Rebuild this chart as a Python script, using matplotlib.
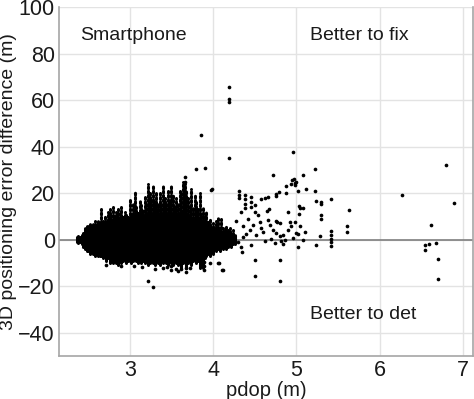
import matplotlib
matplotlib.use('Agg')
import matplotlib.pyplot as plt

plt.rcParams['font.family'] = ['Liberation Sans', 'DejaVu Sans']

# Dense core of the cloud: one column of points per pdop value
# (x, lowest y, top of the solid part, highest y)
col_x = [2.36, 2.38, 2.40, 2.42, 2.44, 2.46, 2.48, 2.50, 2.52, 2.54,
         2.56, 2.58, 2.60, 2.62, 2.64, 2.66, 2.68, 2.70, 2.72, 2.74,
         2.76, 2.78, 2.80, 2.82, 2.84, 2.86, 2.88, 2.90, 2.92, 2.94,
         2.96, 2.98, 3.00, 3.02, 3.04, 3.06, 3.08, 3.10, 3.12, 3.14,
         3.16, 3.18, 3.20, 3.22, 3.24, 3.26, 3.28, 3.30, 3.32, 3.34,
         3.36, 3.38, 3.40, 3.42, 3.44, 3.46, 3.48, 3.50, 3.52, 3.54,
         3.56, 3.58, 3.60, 3.62, 3.64, 3.66, 3.68, 3.70, 3.72, 3.74,
         3.76, 3.78, 3.80, 3.82, 3.84, 3.86, 3.88, 3.90, 3.92, 3.94,
         3.96, 3.98, 4.00, 4.02, 4.04, 4.06, 4.08, 4.10, 4.12, 4.14,
         4.16, 4.18, 4.20, 4.22, 4.24, 4.26]
col_lo = [-1, -1.5, -1, -2, -3, -4, -5, -5, -6, -5,
          -6, -7, -6, -7, -7, -7, -8, -7, -9, -8,
          -10, -9, -10, -8, -10, -11, -9, -10, -9, -8,
          -10, -9, -9, -10, -9, -8, -9, -10, -9, -10,
          -9, -10, -9, -11, -10, -9, -10, -11, -9, -10,
          -11, -9, -10, -9, -10, -11, -9, -10, -11, -9,
          -10, -11, -9, -12, -10, -9, -12, -10, -9, -11,
          -9, -8, -10, -9, -12, -9, -12, -8, -7, -6,
          -7, -5, -6, -4, -5, -4, -5, -3, -4, -3,
          -4, -3, -2, -3, -2, -2]
col_mid = [1, 1.5, 1, 2, 3, 4, 5, 5, 6, 5,
           6, 6, 6, 7, 6, 7, 6, 7, 7, 8,
           7, 8, 8, 7, 8, 9, 7, 8, 7, 8,
           8, 7, 9, 8, 9, 10, 8, 9, 10, 9,
           8, 10, 9, 11, 10, 9, 11, 10, 12, 9,
           10, 9, 11, 10, 9, 11, 10, 11, 9, 8,
           10, 9, 11, 10, 12, 11, 9, 10, 8, 9,
           7, 9, 8, 7, 9, 6, 7, 6, 7, 5,
           6, 4, 5, 3, 4, 3, 4, 3, 3, 2,
           3, 2, 3, 2, 2, 1]
col_hi = [1, 1.5, 1, 2, 3, 5, 6, 6, 7, 6,
          7, 8, 7, 9, 7, 13, 8, 10, 9, 12,
          13, 10, 14, 10, 12, 13, 11, 14, 10, 12,
          11, 10, 17, 11, 16, 21, 14, 12, 17, 15,
          13, 19, 16, 24, 20, 18, 23, 17, 21, 16,
          20, 15, 23, 18, 16, 21, 17, 23, 19, 14,
          18, 16, 21, 20, 25, 24, 21, 18, 15, 22,
          14, 19, 16, 13, 20, 11, 14, 10, 12, 8,
          9, 6, 7, 5, 8, 10, 6, 9, 5, 4,
          6, 4, 5, 3, 4, 3]

# Isolated points
pt_x = [4.19, 4.19, 4.19, 3.85, 4.19, 3.90, 3.79, 3.98, 3.66, 3.66,
        4.96, 4.72, 4.95, 4.97, 4.98, 4.94, 4.99, 4.98, 5.08, 5.22,
        3.99, 4.88, 4.88, 5.02, 5.12, 4.76, 4.79, 4.75, 5.22, 5.24,
        5.29, 5.30, 5.42, 4.31, 4.31, 4.31, 4.38, 4.38, 4.38, 4.38,
        4.46, 4.46, 4.46, 4.50, 4.50, 4.57, 4.62, 4.66, 4.67, 4.65,
        4.76, 4.77, 4.80, 4.90, 5.03, 5.04, 5.08, 5.03, 5.29, 5.30,
        5.63, 5.61, 5.61, 5.42, 5.42, 5.42, 5.42, 5.42, 5.28, 5.23,
        5.02, 5.08, 5.10, 5.04, 5.02, 4.96, 5.00, 4.98, 4.92, 4.93,
        4.90, 4.66, 4.68, 4.72, 4.76, 4.80, 4.82, 4.84, 4.86, 4.50,
        4.50, 4.80, 4.80, 4.35, 4.11, 4.07, 3.96, 6.27, 6.80, 6.89,
        6.61, 6.54, 6.54, 6.59, 6.68, 6.70, 6.70, 3.22, 3.28, 3.50,
        3.50, 3.68, 3.68, 3.62, 3.89, 3.89, 3.89, 3.78, 4.06, 4.12,
        4.44, 4.48, 4.52, 4.56, 4.60, 4.42, 4.54, 4.58, 4.36, 4.40,
        4.70, 4.74, 4.62, 4.84, 4.33, 4.28, 4.30, 4.34, 4.36, 4.45,
        3.05, 3.30, 3.45, 3.55, 3.72, 3.58, 2.72, 2.90, 3.15, 3.40]
pt_y = [65.6, 60.5, 59.2, 45.1, 35.1, 30.8, 30.4, 21.5, 27.0, 25.0,
        37.5, 27.9, 25.5, 26.2, 24.4, 24.0, 25.0, 23.6, 27.9, 30.5,
        21.8, 22.9, 20.1, 20.8, 21.8, 19.8, 20.4, 18.9, 20.8, 16.8,
        16.0, 15.3, 17.5, 21.0, 19.0, 18.0, 19.2, 17.5, 15.5, 13.5,
        18.5, 16.0, 14.0, 15.0, 12.0, 17.3, 18.0, 18.2, 13.0, 12.3,
        8.2, 7.5, 7.0, 11.7, 14.5, 13.5, 13.8, 11.0, 10.6, 8.9,
        12.6, 5.7, 3.3, 3.6, 1.9, 0.4, -1.1, -2.9, 1.7, -2.3,
        -3.2, 0.0, 3.5, 5.8, 2.5, 0.8, 2.9, 7.5, 7.8, 6.0,
        4.3, 8.6, 6.2, 4.3, 2.9, 1.4, -0.7, 2.2, 0.0, -8.9,
        -15.5, -8.9, -17.6, -5.3, -13.2, -10.0, -10.0, 19.3, 32.1, 15.8,
        6.3, -2.3, -4.3, -1.9, -1.4, -8.2, -16.8, -17.9, -20.3, -13.0,
        -11.5, -12.0, -14.0, -12.5, -9.5, -11.5, -13.0, -8.5, -10.0, -13.0,
        4.0, 6.5, 2.0, 7.5, 3.5, 9.0, 10.5, 5.0, 1.0, 2.5,
        0.5, -1.5, -0.5, -2.0, 12.0, 8.0, -1.0, -3.0, 6.0, -2.5,
        -11.5, -12.5, -11.8, -12.8, -12.2, -13.5, -11.0, -11.2, -11.6, -12.0]

fig = plt.figure(figsize=(4.74, 3.99), dpi=100)
ax = fig.add_axes([0.1245, 0.108, 0.8735, 0.874])

# solid lower part of each column, then the sparser dotted upper part
ax.vlines(col_x, col_lo, col_mid, color='black', lw=2.2, capstyle='round', zorder=3)
ax.vlines(col_x, col_mid, col_hi, color='black', lw=2.2, capstyle='round',
          linestyles=(0, (0.6, 0.8)), zorder=3)
ax.scatter(pt_x, pt_y, s=7, color='black', linewidths=0, zorder=3)
ax.axhline(0, color='#7f7f7f', lw=1.2, zorder=2)

ax.set_xlim(2.15, 7.12)
ax.set_ylim(-50, 100)
ax.set_xticks([3, 4, 5, 6, 7])
ax.set_yticks([-40, -20, 0, 20, 40, 60, 80, 100])
ax.set_yticklabels(['\u221240', '\u221220', '0', '20', '40', '60', '80', '100'])
ax.grid(True, color='#e3e3e3', lw=1.0, zorder=0)
ax.set_axisbelow(True)
ax.tick_params(length=0, labelsize=15.5, labelcolor='#1a1a1a', pad=3)
for side in ['left', 'bottom', 'right']:
    ax.spines[side].set_color('#a6a6a6')
    ax.spines[side].set_linewidth(1.2)
ax.spines['top'].set_visible(False)

ax.set_xlabel('pdop (m)', fontsize=14.5, color='#1a1a1a', labelpad=0)
ax.set_ylabel('3D positioning error difference (m)', fontsize=14, color='#1a1a1a', labelpad=1)

ax.text(2.40, 88, 'Smartphone', fontsize=14, color='#1a1a1a', va='center')
ax.text(5.16, 88, 'Better to fix', fontsize=14, color='#1a1a1a', va='center')
ax.text(5.16, -32, 'Better to det', fontsize=14, color='#1a1a1a', va='center')

fig.savefig('out.png', dpi=100)
